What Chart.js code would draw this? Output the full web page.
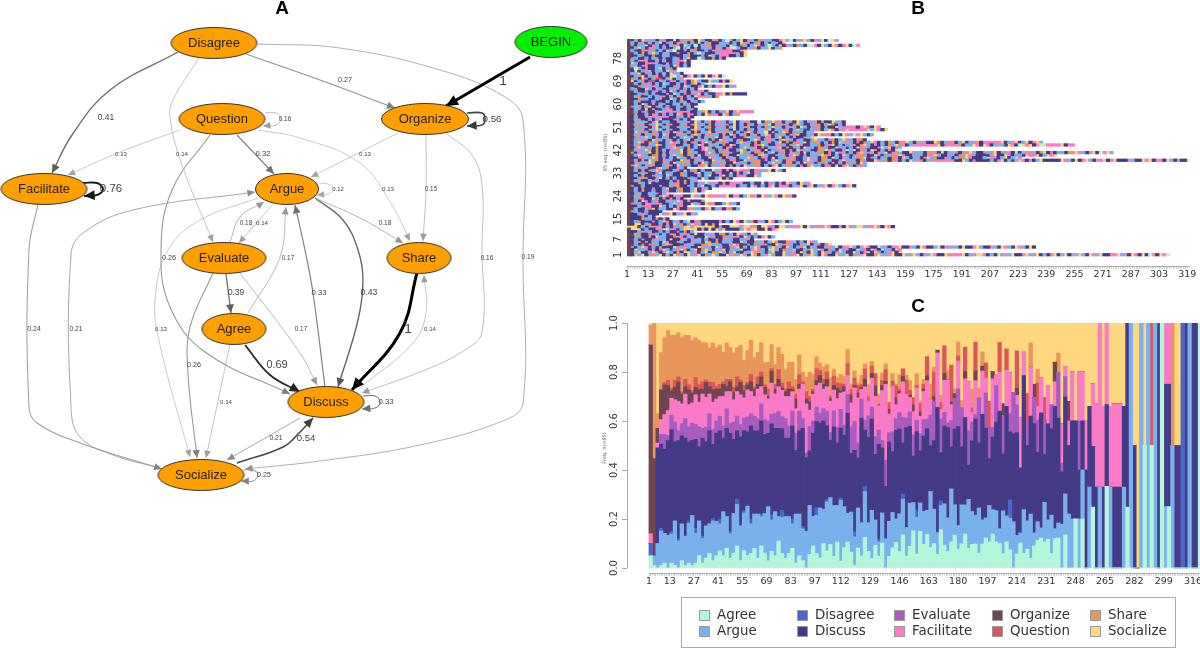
<!DOCTYPE html>
<html><head><meta charset="utf-8">
<script src="https://cdn.jsdelivr.net/npm/chart.js@4"></script>
<style>
html,body{margin:0;padding:0;background:#fff;width:1200px;height:649px;overflow:hidden}
canvas{position:absolute;filter:blur(.35px)}
.t{position:absolute;font:bold 19px "Liberation Sans",sans-serif;color:#000;transform:translate(-50%,-50%)}
#lg{position:absolute;left:681px;top:597px;width:493px;height:49px;border:1px solid #aaa;box-sizing:content-box;filter:blur(.3px)}
.li{position:absolute;font:13.4px "DejaVu Sans",sans-serif;color:#333;line-height:16px;white-space:nowrap}
.sw{position:absolute;width:9px;height:9px;border:1px solid #999}
</style></head><body>
<canvas id="a" width="600" height="500" style="left:0;top:0"></canvas>
<canvas id="b" width="600" height="270" style="left:600px;top:20px"></canvas>
<canvas id="c" width="600" height="280" style="left:600px;top:310px"></canvas>
<div class="t" style="left:282px;top:8px">A</div>
<div class="t" style="left:918px;top:8px">B</div>
<div class="t" style="left:918px;top:306px">C</div>
<div id="lg"></div>
<script>
// ---------- shared categories ----------
const states=['Agree','Argue','Disagree','Discuss','Evaluate','Facilitate','Organize','Question','Share','Socialize'];
const stateCodes='ARGDEFOQSZ';
const stateColors=['#B4F6D9','#7AB1EC','#4B66C9','#443A85','#A85CC0','#FB7BC6','#6F4552','#DC5659','#E9965B','#FFD77F'];

// ---------- panel A: transition network ----------
const nodeNames=['Disagree','BEGIN','Question','Organize','Facilitate','Argue','Evaluate','Share','Agree','Discuss','Socialize'];
const edgeWeights=[1,.56,.41,.27,.14,.19,.16,.13,.32,.26,.13,.13,.15,.16,.12,.18,.43,.33,.14,.18,.17,.24,.21,.13,.26,.39,.17,.14,.69,1,.14,.33,.21,.54,.25,.76];

// layout of the network drawing
const nodeLayout={x:[214,551,222,425,44,287,224,419,234,326,201],y:[43,42,119,119,189,189,258,258,329,402,475],rx:[43,36,43,43.5,43,31.5,42,32,32,38,43],ry:15.5};
const edgeRoutes=[
[[530,57],[446,106]],
[[467,113],[482,113],[485,119],[482,125],[467,126]],
[[178,52],[110,90],[72,135],[52,173]],
[[246,54],[320,80],[395,108]],
[[199,58],[173,100],[170,118],[182,165],[213,242]],
[[258,44],[340,48],[440,70],[505,97],[523,120],[523,260],[523,403],[505,420],[420,445],[320,461],[245,469]],
[[265,113],[276,113],[281,119],[276,125],[263,126]],
[[180,130],[120,152],[68,175]],
[[237,135],[274,174]],
[[210,135],[172,190],[161,250],[170,307],[205,352],[290,394]],
[[258,130],[300,138],[360,163],[392,205],[410,241]],
[[398,133],[311,177]],
[[426,135],[426,190],[423,241]],
[[447,134],[472,155],[482,185],[482,250],[482,332],[465,350],[425,370],[362,393]],
[[317,184],[328,184],[334,189],[328,194],[317,195]],
[[315,198],[360,218],[403,243]],
[[315,198],[343,220],[358,250],[363,280],[358,320],[338,387]],
[[325,387],[313,293],[305,250],[295,205]],
[[273,204],[239,243]],
[[230,242],[240,217],[264,202]],
[[248,313],[280,257],[286,207]],
[[38,204],[29,250],[29,407],[37,423],[80,443],[162,469]],
[[160,468],[113,455],[80,437],[71,407],[71,255],[83,233],[133,210],[255,192]],
[[258,198],[200,220],[168,250],[155,300],[160,345],[190,457]],
[[213,273],[190,327],[188,373],[197,458]],
[[226,274],[231,313]],
[[240,273],[300,353],[317,385]],
[[230,344],[206,458]],
[[245,345],[270,375],[300,392]],
[[417,273],[400,333],[352,390]],
[[360,388],[413,343],[426,313],[424,275]],
[[363,396],[375,396],[380,402],[375,408],[362,409]],
[[300,418],[227,460]],
[[237,463],[283,447],[300,432],[313,418]],
[[243,470],[253,470],[258,475],[253,481],[241,481]],
[[83,183],[97,183],[103,189],[97,195],[84,196]]];
const edgeLabelAt=[[503,81],[492,119],[106,118],[345,80],[182,154],[528,257],[285,119],[121,154],[263,154],[169,258],[388,189],[365,154],[431,189],[487,258],[338,189],[385,223],[369,293],[319,293],[262,223],[246,223],[288,258],[34,329],[76,329],[161,329],[194,365],[236,293],[301,329],[226,402],[277,365],[408,329],[430,329],[386,402],[276,438],[306,438],[264,475],[111,189]];

function ellipseImage(rx,ry,fill){
  const c=document.createElement('canvas');c.width=Math.ceil(2*rx+3);c.height=Math.ceil(2*ry+3);
  const g=c.getContext('2d');g.beginPath();g.ellipse(c.width/2,c.height/2,rx,ry,0,0,7);
  g.fillStyle=fill;g.fill();g.lineWidth=1;g.strokeStyle='#333';g.stroke();return c;
}
const edgeGray=w=>Math.round(235*Math.pow(1-w,1.5));
const grayCss=g=>`rgb(${g},${g},${g})`;
const edgeDatasets=edgeRoutes.map((r,i)=>({
  type:'line',data:r.map(p=>({x:p[0],y:p[1]})),borderColor:grayCss(edgeGray(edgeWeights[i])),
  borderWidth:edgeWeights[i]>.9?3:.6+1.8*edgeWeights[i],tension:.4,pointRadius:0,fill:false,order:1,clip:false}));
const nodeDataset={type:'line',showLine:false,order:-1,clip:false,
  data:nodeNames.map((n,i)=>({x:nodeLayout.x[i],y:nodeLayout.y[i]})),
  pointRadius:10,pointStyle:nodeNames.map((n,i)=>ellipseImage(nodeLayout.rx[i],nodeLayout.ry,n==='BEGIN'?'#00F000':'#FF9F00'))};
const networkPlugin={id:'network',
  afterDatasetDraw(ch,args){
    if(args.index===0)return;
    const i=args.index-1,w=edgeWeights[i],pts=args.meta.data,n=pts.length,b=pts[n-1],a=pts[n-2];
    const ang=Math.atan2(b.y-a.y,b.x-a.x),len=6.5+5.5*w,hw=3+2.5*w,g=Math.round(edgeGray(w)*.85);
    const c=ch.ctx;c.save();c.translate(b.x,b.y);c.rotate(ang);c.fillStyle=grayCss(g);
    c.beginPath();c.moveTo(0,0);c.lineTo(-len,-hw);c.lineTo(-len,hw);c.closePath();c.fill();c.restore();
  },
  afterDatasetsDraw(ch){
    const c=ch.ctx,sx=ch.scales.x,sy=ch.scales.y;c.save();c.textAlign='center';c.textBaseline='middle';
    c.fillStyle='#222';c.font='13px "Liberation Sans",sans-serif';
    nodeNames.forEach((n,i)=>c.fillText(n,sx.getPixelForValue(nodeLayout.x[i]),sy.getPixelForValue(nodeLayout.y[i])));
    c.fillStyle='#444';
    edgeWeights.forEach((w,i)=>{c.font=(5+8.5*w).toFixed(1)+'px "Liberation Sans",sans-serif';
      c.fillText(w===1?'1':String(w),sx.getPixelForValue(edgeLabelAt[i][0]),sy.getPixelForValue(edgeLabelAt[i][1]));});
    c.restore();
  }};
new Chart(document.getElementById('a'),{type:'line',data:{datasets:[nodeDataset,...edgeDatasets]},plugins:[networkPlugin],
  options:{responsive:false,animation:false,events:[],plugins:{legend:{display:false},tooltip:{enabled:false}},layout:{padding:0,autoPadding:false},
    scales:{x:{type:'linear',display:false,min:0,max:600},y:{type:'linear',display:false,min:0,max:500,reverse:true}}}});

// ---------- panel B: sequence index plot ----------
// one string per sequence, top row (85) first; each letter = 2 positions
const seqRows=[
"ODRDZRFRDS RDDZDRFSSD ZRDDFSDRAS DRZDFRDSFR RDDFZRADRS ZRDFRZDAZR",
"ORDSFDRDRZ DFRDFSRDRD ZDRSDDFRRD RDZSFDRSDR DRFDZ",
"OSDRRZDFRD FDRSFDZRDA DRSSDFRRDZ RDSRDRZFDS ARDZDFRDSR DZAFDZRDZF DFZDAF",
"ODRZRDFSRD RDDSADRZDS DRFRDSRDFZ ARDDFRSDRR ZDRS",
"ORDDSSFRDR DZRADDFDRS DDRDFFFFFF DDFZ",
"OORDSDRZRD FRDDSDDSDR ARDDDRFFFF FFDZ",
"ODDRSDDSDD RRDDDDRSDD DFDZRDFFFD DRDZ",
"OSRDDRDRSD FDDRFDRZDD ARDDSDFD",
"ORDFSFDDRD RDDRFFZD",
"OZRDDSFFFD DFDRSDFD",
"ORSDFFDDRR FRDZFDRD",
"OOARDSDDRZ DRSD",
"ODZDRSFDRR DZRS",
"ORRZDFRDSD RDZFRD",
"ODRSZDRSFD FDZARZDFZD RDZDFZDA",
"OSRDZFDRQQ DRZDRF",
"OZDRSDQQDF RDFSDRFDSZ RDDZRRDFDZ",
"OORDSFRDRD ZRDDRDFDSZ DR",
"ODDSRFFFRD RDDSRDZRDD FZDRDFFZDR F",
"ORSDDZRDFR DDRFSDRDRD",
"OORDDSDFFD RDZRDRFDSF FFDZ",
"ODDRSRDRDD DFDZRDSDFR ZDRDDFFZDS DDDD",
"OORSDDRDRF SDRDSFDRDZ FFFRDS",
"ODDSRRDDRF DDZRDSDFRD",
"OORSDDDRDD DRDSDRSDFR DR",
"ODRDZSDFDR SDDRRDRSDD",
"OSRRDRZDFR DRDDRSDRD",
"ODRSDZDSDD RFSDRDDRSD",
"OORDFSDDRZ FFFFFFFFDD RSZDRDFRZD FZFFFF",
"OOSDDRDSFD RDRDZSDFFD RDZSFFDZFD RS",
"ODRDDSFFFF FFDDRRDFD",
"OORSDDRDRZ DDDSFDRD",
"ODSRRSDFZD RRDDSRSFDZ RDRSDFFRDR ZDRFSDDADS RZSFDRSDZR DFRSDSDDZR FD",
"OORSFDSRZR DSFDDRRDSZ FRDSDRRFSD ZDRDSRDFRS ZDRRSFDSZR DDRFSDRZSD RD",
"ODSRRSDFZD RRDDSRSFDZ RDRSDFSRDR ZDRFSDDRDS RZSFDRSRDZ RDFRSDSDDZ RFFFFDFZFD ZF",
"OORSFDSRZR DSFDDRRDSZ FRDSDRRFSD ZDRDSRDFRS ZDRRSFDSZR DDRFSDRZSD FFZFFFFFZR ZFDZ",
"ODZRSRDSFD RRDZFSDRDS DRRZDFSRSR DRDFZSDRSA DFDRZSDRRS DRF",
"OORFDSRSRD ZFDDRSRDSZ RDFSRRDSDZ FDRSDRSDRZ FDRSRDSFZD DRRDZSSFDR DZFRZFZRDR",
"ODSSRZRDFD RSDSDRZRFD SDRSRZDFRD SDDSZRRFDS SDRZDRDFDD SRZ",
"OORRFSDZSR DRFDSDRZDS RFRDSDZSRR DFSDDRZSDR FRDSZSRDFR DDSZRRDFSD RZSRDFSD",
"ODRZFDSRSD DRZFRDSDSR DFZRDSRSFD DRZFRDSDRS FDRZDSDSFR ZDRSFDRDSD ZRFRDSDSRZ FDRDSRDSFZ RDSRFDDZSD RFSDRZDRFS DFFFFFZDRF ZDRZDFZR",
"OORSDDFRZS DRSFDDRSDR ZFDSRRDSDZ FDRRSDFSZR DDFSRDSRZF DDRRSDSFZD RDRSFDSZRD FDRDSRZSFD RFFFFFFFZD FFFFSDRRZF DZFDRFRDZF DAZFZDFAZF FFFZDFF",
"ODFZRSRDSD DRFZSRDSDR DFZRDSRDSF DDRZRSFDSD RRFZDSDSRD ZFRDSSRDDZ FRDRDZSFSD DFZRZDFR",
"OORFRZSDSD RDFRSZDSRD DFZRSDRSFD DRZSDRFSDZ DRRFSDSDZF RRDDSSZFRD DFZRZDFRDZ FDRDFDZA",
"OSDRFRZDSD SDRFRZDSSR DDFZRDSSRF DDZRRDSSFD RZDRSDFSRD ZDRFRSDSDZ FRDRDSZSFR DSRZDFSRDD ZFRRDSSFDZ DRRSDFSZRD DFRSZDSRFD ZDRFSRDSZD FDRRDSSZFR DFZDAFZR",
"OORZRFDSSD RDFZRSDSRD ZDFRSRDSFD DZRRSFDSZR DDFRSDRZSD FDRRSZSFDR DZRDSFSRDD ZFDRRSSZFD DRRSDFSZRD DRFDSRZSFD DDDRZDDZFD RRDZFFZDRZ FZ",
"ODDFSRRZSD FDRDZRSDSF RDDZFRSDSR FDRRZSRDSF DZDRRSFSDD RZFRDSSDZR DFRDRSSZDF RDRSDSFDZR DFRDSZRSDD FRDRSSZFDD DRZFFDRZDR ZF",
"OORDFDZRSD SRFDDZRSDS RFDDZRRSDS FDDZRRSSDF DRZRDSFSDD RZFRDSSRDD FZRRSDSFDD ZFRSDSFDRD ZRFSDRSFFF FFSDDZRDFD DDDRDFZDRD RZFDFDRZDD DDDZFRDZDF ZRDFFZDFZD DDFRDDZFZD FFDZRDFDDA",
"ODFSRRZSDD FRDZRSSFDR DZRDSFSRDD ZFRRDSSFDD RZRSDFSDRD ZFRDSSRDFD RDFSRDZR",
"OSZRDFRSDD RSFDZRSRDD FSZDRRFSDS DRDZFRSSDR DFZDRSSRDF DSZRRDFSDZ DFZRDSFR",
"ODRSRSDDFZ RSDDFRD",
"OORDFDSRZR DDDRFDZDRS DRDDZRFDFD FZFFFDFFRF ZDZRD",
"ODDSRSDDFZ DRRDDSRDDF ZDRRDFFDDZ DFDRZDFR",
"OORDSDDSRR DZFDDSRDDD RDRZDDFZDR DFFFDDZR",
"ODDRSSDDFZ DRDRDDDSRF DZRDDRZDSD",
"OORSDDRFRD DDSDFDSDRR",
"ODDSRDZDDD DDRFSDSDRD FRZRFFDSDF FFFDDRDDZD FRDFDZFRDZ RF",
"OSDDRDDDDF DDRSSDDFRD RZDDRDFFFF FDRRDZFDRD FZDFFFDRFZ DFZDRFZDFZ RDFZD",
"ODRDSDDFDD RZDDSSDDRZ DFRD",
"OORDSDDRDD RFDDRSDDRZ DF",
"ODSRDDRRFD RZ",
"OORSDDFRDS ZFDFFFDDZF RDZSFFFFZD FFDRZSFDZF RZFDZSFD",
"ODRSFDDZRD FDSDRDZ",
"OORDZFDRSD DRFRZFDFDD DS",
"OSFRDFFFFS DDRZRFDDZR FDZSFDDRZF RD",
"ODDRSFFDDZ RDRDFSD",
"OORDDFSZDR RDDZFDDFSR RDFZDRFDFS DR",
"OSRDDRDDDD",
"ODDRSFDDDZ RFZDRFZDFR",
"ODDDSDRD",
"ODDDSRRDSD FD",
"OORSDDDFDR ZSDRFDRZDF SDDDDDFDRD ZFDZRSDFRD ZFDRZDR",
"ODZZDRSDDR DFDZRSDRZF RDZDSD",
"ZZZORDFSFF DRDSRSZZFZ ZZZZZDFDDZ ZZFZZFSDZZ FFDZZRFFFZ DZRFFFZFDD FDZFRZZRFF ZFDZFD",
"OZZZDRDDFS ZZFFDRZZZZ DFDZDZRZDD DDRZFZZDDZ DFZ",
"ODDRSFRDDR DRDDFDSDR",
"OORSDDSFRD RDFSDRFFDZ DDRRFDSSDR DZFRDZR",
"ODSRDDFDZR RDDSSFDRRD DDZFRDDSRF FFDZRDRDFZ DR",
"OORDSDDSFR RDZDDSRDFF RDRDDSDFSR DDRFFD",
"ODRSDSDRRD ZFDDSRDDFR RDZSDSDRRF DDZRDDSRFD RZSDDSFRDR DZFR",
"OORDSDFSRD RZSDDDFRRD DSSZRRFDDR ZFDDSDRRFS DDZRSFRDDS RZDRFDSZ",
"OSDRZFDRDS DDDZSRFRDD ZSRFDZRDDS FZDRDRZFDD RZSFDZRDRF ZDRFDDRFRZ DFFZRDFZFD DZRFDFFZDD FRDZFDDRZD FRFRDZDDFZ RDDFRDZFRD ZFRDZD",
"ODZRRSDFDS ZRDRFZSDRZ DSZRDRFZDS RRZDDFZSRD ZZRDSFRZDD RSZRZFDSRD ZRFDDZRFDZ FDZRRDZF",
"OORZDDRZSD FZRDSDZZRF DRZDSSZRDR ZDDFRZFSRD RZDDZRRFDZ SDZRDZSRDF ZRDDZRDFZD ZRDRFZDZ",
"ODZRZDSFRZ DRDZSRDZRF ZDSRZRDDZF SRZRDZSDRF ZRDDZRSFZD RSZRDZFDDZ RRZDSRFZDD SZRRFZDDZR SZRDFRZFDD ZSFFFZDRFZ ZFDRDZRFRZ DDFZRFZDRD FZDRZDFRZR DZFRZDDFFZ RFDZFDZDAF DZFA"
];
const xLabelsB=[1,13,27,41,55,69,83,97,111,127,143,159,175,191,207,223,239,255,271,287,303,319];
const yLabelsB=[1,7,15,24,33,42,51,60,69,78];

const bData=states.map(()=>[]);
seqRows.forEach((s,r)=>{
  const row=85-r,t=s.replace(/ /g,'');let k=0;
  while(k<t.length){let e=k;while(e+1<t.length&&t[e+1]===t[k])e++;
    bData[stateCodes.indexOf(t[k])].push({y:row,x:[1+2*k,1+2*(e+1)]});k=e+1;}
});
new Chart(document.getElementById('b'),{type:'bar',
  data:{datasets:states.map((n,i)=>({label:n,data:bData[i],backgroundColor:stateColors[i],barThickness:2.6,grouped:false,borderWidth:0}))},
  options:{indexAxis:'y',responsive:false,animation:false,events:[],plugins:{legend:{display:false},tooltip:{enabled:false}},
    layout:{padding:{top:19,right:11,left:0,bottom:0}},
    scales:{
      x:{type:'linear',min:1,max:320,stacked:false,afterBuildTicks:s=>{s.ticks=[];for(let c=1;c<=319;c++)s.ticks.push({value:c});},
        afterFit:s=>{s.height=24;},
        border:{color:'#aaa',width:1},grid:{drawOnChartArea:false,color:'#bbb',tickLength:3,lineWidth:.6},
        ticks:{autoSkip:false,maxRotation:0,padding:0,color:'#333',font:{family:'DejaVu Sans',size:9.5},callback:v=>xLabelsB.includes(v)?String(v):''}},
      y:{type:'linear',min:-3.42,max:85.5,offset:false,afterBuildTicks:s=>{s.ticks=yLabelsB.map(v=>({value:v}));},
        afterFit:s=>{s.width=27;},
        border:{display:false},grid:{display:false,drawTicks:false,offset:false},
        title:{display:true,text:'85 seq. (n=85)',color:'#666',font:{family:'DejaVu Sans',size:5},padding:{top:3,bottom:0}},
        ticks:{autoSkip:false,minRotation:90,maxRotation:90,crossAlign:'center',padding:2,color:'#333',font:{family:'DejaVu Sans',size:10}}}
    }}});

// ---------- panel C: state distribution plot ----------
// one value per 2 positions, estimated in percent of the sequences still running
const agree=[5,1,0,1,2,0,2,1,0,3, 1,2,1,2,5,2,4,6,3,5, 7,5,8,4,6,9,3,7,5,6, 8,4,9,6,3,7,5,11,6,4, 6,8,2,5,3,0,5,9,6,4, 10,7,9,5,10,3,8,11,6,1, 8,5,12,7,4,9,5,10,0,5, 8,11,7,13,5,9,16,6,17,10, 14,8,10,5,16,10,7,10,13,8, 10,14,8,10,10,6,10,12,10,14, 10,10,6,10,8,0,6,10,5,8, 4,10,12,12,12,12,6,12,12,0, 13,0,0,20,0,20,0,0,33,0, 0,0,33,0,0,0,0,0,33,0, 0,0,0,50,0,50,0,0,50,0, 50,0,0,0,0,0,0,0,0,100];
const argue=[0,4,10,14,12,13,12,18,11,15, 12,16,20,12,14,10,13,12,16,14, 11,18,13,10,16,17,14,15,20,12, 14,18,12,16,22,13,18,10,15,17, 15,10,20,17,13,15,18,12,16,20, 14,20,18,22,14,26,16,12,15,12, 16,14,18,12,20,10,6,12,10,15, 14,10,16,14,12,18,12,16,13,14, 10,22,14,8,10,18,14,20,12,10, 16,12,20,14,12,18,10,8,14,10, 12,6,18,10,14,20,8,4,15,12, 18,6,8,4,18,8,16,4,6,20, 16,22,20,0,20,20,0,33,0,0, 33,0,0,33,0,0,0,33,0,50, 0,0,100,0,50,0,50,0,0,50, 0,50,0,0,0,0,100,0,0,0];
const disagree=[5,0,0,1,0,0,1,0,1,0, 0,1,0,2,0,1,0,0,1,0, 2,0,0,1,0,2,0,1,0,2, 0,0,1,0,0,2,0,0,3,0, 0,2,0,0,1,0,0,0,3,0, 0,1,0,0,0,1,0,0,0,2, 0,0,2,0,0,0,1,0,0,0, 0,0,0,2,0,0,0,3,0,0, 0,0,0,0,2,0,0,0,0,0, 0,0,0,0,0,0,0,0,0,0, 0,0,0,0,8,0,0,0,0,0, 0,0,0,0,0,0,0,0,0,0, 0,0,0,0,0,0,0,0,0,0, 0,0,0,0,0,0,0,0,0,0, 0,0,0,0,0,0,0,0,0,0, 0,0,0,0,100,0,0,0,0,0];
const discuss=[0,0,39,34,34,38,42,32,40,36, 40,32,30,36,30,40,34,38,30,36, 36,30,36,40,30,28,36,32,30,38, 34,34,38,32,30,38,34,36,34,32, 32,38,26,34,40,30,20,34,36,34, 36,30,22,34,24,30,28,42,22,34, 20,44,22,36,38,26,40,26,18,34, 24,38,36,20,42,32,20,34,24,32, 34,18,28,46,20,34,38,16,30,42, 24,36,14,30,40,26,44,36,18,30, 34,48,24,42,30,38,44,26,46,32, 40,50,30,46,22,40,36,50,42,24, 38,28,40,40,20,20,40,33,33,33, 0,33,33,0,33,33,33,33,100,0, 50,0,0,0,0,0,0,50,0,100, 100,0,50,50,0,100,0,100,100,0];
const evaluate=[0,0,0,4,6,2,6,8,4,5, 8,6,7,6,8,4,6,7,6,5, 6,5,8,4,7,6,5,5,6,5, 6,5,7,6,5,4,6,7,5,8, 5,6,7,8,4,2,9,5,6,4, 5,6,3,7,6,8,4,8,10,12, 6,8,4,9,5,7,6,3,9,4, 8,5,7,10,4,6,9,5,8,7, 4,12,16,0,14,6,2,10,12,16, 16,0,14,8,2,18,0,14,12,4, 14,0,16,0,8,18,12,0,0,10, 0,12,14,0,16,0,10,0,18,4, 8,0,0,0,20,0,0,0,0,0, 0,0,0,0,0,0,0,0,0,0, 0,0,0,0,0,0,0,0,0,0, 0,0,0,0,0,0,0,0,0,0];
const facilitate=[4,0,2,6,8,10,7,9,12,8, 10,9,8,12,10,14,12,8,11,9, 8,12,7,13,9,10,12,8,11,9, 8,12,7,10,9,13,8,10,11,9, 12,8,10,9,14,20,6,11,9,12, 8,10,12,9,11,7,13,8,9,14, 18,4,13,6,12,16,10,20,26,8, 18,6,8,14,10,6,10,14,8,12, 16,6,0,20,4,14,18,6,0,12, 0,16,20,4,14,0,18,6,0,20, 4,16,0,14,18,0,4,20,8,0, 20,0,6,14,0,16,0,10,0,18, 4,10,20,0,20,20,20,0,34,34, 67,33,33,33,34,34,34,0,0,0, 0,0,0,0,0,0,0,0,0,50, 50,0,0,0,0,0,0,0,0,0];
const organize=[77,40,6,12,12,10,3,5,8,4, 3,6,4,3,5,2,6,3,5,4, 3,5,2,4,3,2,5,3,2,4, 3,2,4,3,1,5,2,3,1,2, 3,1,4,2,0,2,3,1,2,3, 2,3,1,2,4,1,2,0,3,1, 2,1,3,0,2,4,0,2,1,2, 0,3,1,2,0,1,3,0,2,1, 2,0,2,1,0,3,0,1,2,0, 0,3,0,0,4,0,2,0,0,3, 0,0,5,0,0,0,3,0,0,0, 0,6,0,0,0,0,0,8,0,0, 0,8,0,0,0,0,0,0,0,0, 0,0,0,0,0,0,0,0,0,0, 0,0,0,0,0,0,0,0,0,0, 0,0,0,0,0,0,0,0,0,0];
const question=[0,0,0,0,1,2,1,3,2,1, 3,2,1,4,2,3,1,2,3,1, 2,1,3,1,2,4,1,2,1,3, 1,3,2,1,3,1,2,4,2,1, 3,1,2,4,1,3,2,1,5,2, 2,3,1,4,2,3,1,5,2,3, 3,1,4,2,3,5,1,2,4,3, 2,5,1,3,6,2,3,1,4,2, 8,0,10,0,3,12,0,14,0,2, 0,10,0,2,12,0,0,6,10,0, 0,12,0,8,0,0,16,0,0,12, 0,0,10,0,10,0,0,0,0,0, 0,0,0,0,0,0,0,0,0,0, 0,0,0,0,0,0,0,0,0,0, 0,0,0,0,0,50,0,0,0,0, 0,0,0,0,0,0,0,0,0,0];
const share=[8,56,6,15,18,20,22,18,18,22, 18,20,20,16,18,16,15,14,16,16, 16,12,15,13,14,12,14,10,13,14, 12,10,12,9,11,10,8,9,12,8, 8,10,6,8,4,6,9,6,5,3, 5,3,7,3,2,4,3,6,2,3, 1,4,2,5,2,0,4,3,2,0, 3,1,6,0,2,4,0,5,1,2, 0,6,2,0,3,0,4,0,2,6, 3,0,0,8,0,4,6,0,0,0, 0,0,0,0,0,0,0,0,0,0, 10,0,6,0,0,0,0,0,8,0, 0,0,0,0,0,0,0,0,0,0, 0,0,0,0,0,0,0,0,0,0, 0,0,0,0,0,0,0,0,0,0, 0,50,0,0,0,0,0,0,0,0];
const socialize=[1,0,37,12,6,3,5,5,4,6, 5,5,7,6,7,8,8,10,8,10, 9,12,8,10,12,10,9,15,11,7, 14,12,8,16,16,9,17,10,13,19, 16,16,23,13,20,22,18,21,14,16, 18,17,21,20,21,22,21,11,23,20, 24,22,16,26,16,20,30,20,14,34, 20,26,22,18,22,24,32,22,36,24, 14,24,18,10,30,10,20,16,26,8, 32,10,24,28,8,26,12,16,30,20, 20,8,34,10,22,30,12,38,10,30, 8,28,20,22,34,26,34,16,12,46, 17,32,20,40,20,20,40,34,33,33, 0,34,0,34,33,33,33,34,0,0, 50,50,0,50,0,0,0,0,0,0, 0,0,50,50,0,0,0,0,0,0];
const xLabelsC=[1,13,27,41,55,69,83,97,112,129,146,163,180,197,214,231,248,265,282,299,316];
const yLabelsC=[0,.2,.4,.6,.8,1];

const cSeries=[agree,argue,disagree,discuss,evaluate,facilitate,organize,question,share,socialize];
const cTotals=agree.map((_,i)=>cSeries.reduce((t,s)=>t+s[i],0));
const axisLines={id:'axisLines',afterDraw(ch){
  const c=ch.ctx,sx=ch.scales.x,sy=ch.scales.y;c.save();c.strokeStyle='#aaa';c.lineWidth=1;c.beginPath();
  const yb=ch.chartArea.bottom+.5,xl=ch.chartArea.left+.5;
  c.moveTo(sx.getPixelForValue(1),yb);c.lineTo(sx.getPixelForValue(320),yb);
  c.moveTo(xl,sy.getPixelForValue(0));c.lineTo(xl,sy.getPixelForValue(1));c.stroke();c.restore();}};
new Chart(document.getElementById('c'),{type:'bar',plugins:[axisLines],
  data:{datasets:cSeries.map((s,j)=>({label:states[j],backgroundColor:stateColors[j],barThickness:3.6,borderWidth:0,
    data:s.map((v,i)=>({x:2+2*i,y:v/cTotals[i]}))}))},
  options:{responsive:false,animation:false,events:[],plugins:{legend:{display:false},tooltip:{enabled:false}},
    layout:{padding:{top:13,right:0,left:0,bottom:0}},
    scales:{
      x:{type:'linear',stacked:true,min:-11.74,max:320,offset:false,afterBuildTicks:s=>{s.ticks=[];for(let c=1;c<=319;c++)s.ticks.push({value:c});},
        afterFit:s=>{s.height=17;},
        border:{display:false},grid:{drawOnChartArea:false,offset:false,color:'#bbb',tickLength:3,lineWidth:.6},
        ticks:{autoSkip:false,maxRotation:0,padding:0,color:'#333',font:{family:'DejaVu Sans',size:9.5},callback:v=>xLabelsC.includes(v)?String(v):''}},
      y:{type:'linear',stacked:true,min:-.0204,max:1,afterBuildTicks:s=>{s.ticks=yLabelsC.map(v=>({value:v}));},
        afterFit:s=>{s.width=27;},
        border:{display:false},grid:{drawOnChartArea:false,color:'#aaa',tickLength:5},
        title:{display:true,text:'Freq. (n=85)',color:'#666',font:{family:'DejaVu Sans',size:5},padding:{top:2,bottom:0}},
        ticks:{autoSkip:false,minRotation:90,maxRotation:90,crossAlign:'center',padding:0,color:'#333',font:{family:'DejaVu Sans',size:10},callback:v=>v.toFixed(1)}}
    }}});

// ---------- shared legend ----------
const lg=document.getElementById('lg');
const legendCols=[17,115,212,310,408],legendRows=[11,27];
states.forEach((n,i)=>{
  const col=Math.floor(i/2),row=i%2,sw=document.createElement('div'),tx=document.createElement('div');
  sw.className='sw';sw.style.left=legendCols[col]+'px';sw.style.top=(legendRows[row]+1)+'px';sw.style.background=stateColors[i];
  tx.className='li';tx.textContent=n;tx.style.left=(legendCols[col]+18)+'px';tx.style.top=(legendRows[row]-2)+'px';
  lg.append(sw,tx);
});
</script></body></html>
